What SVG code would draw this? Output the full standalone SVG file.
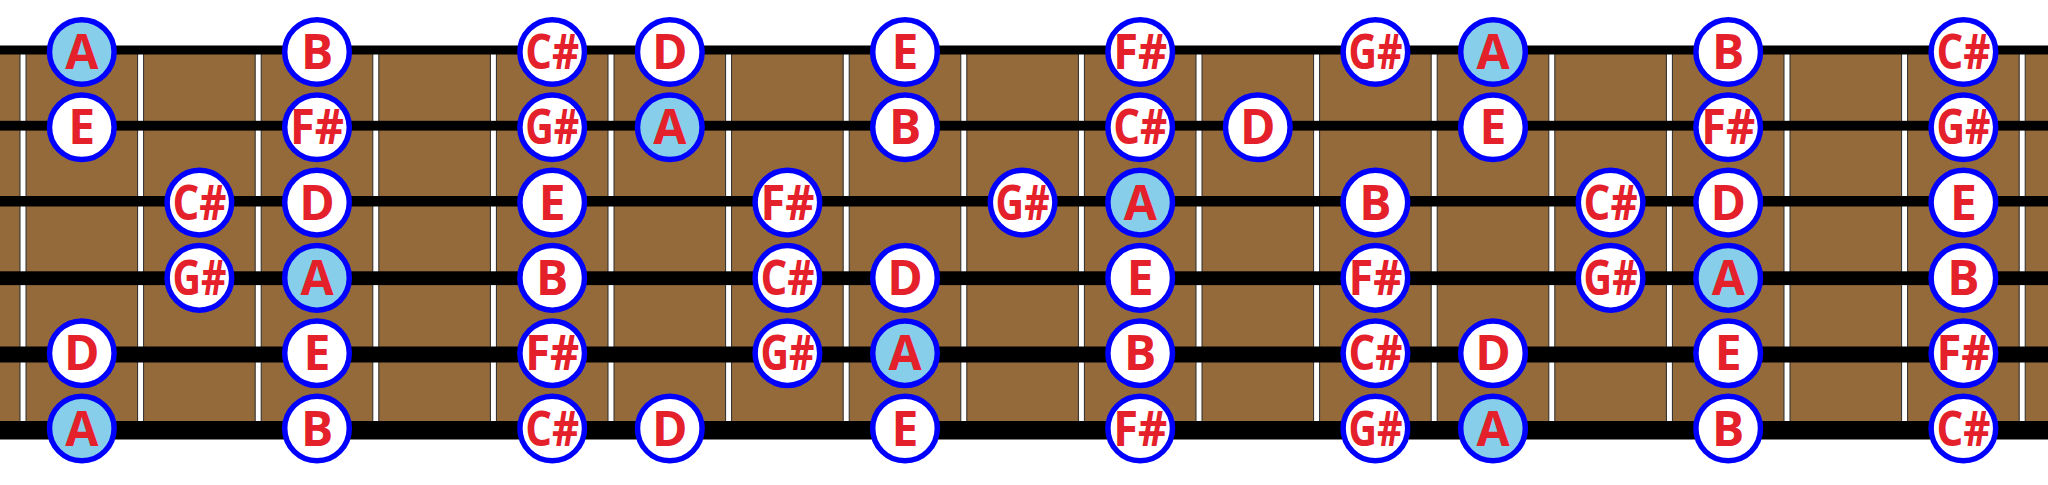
<svg xmlns="http://www.w3.org/2000/svg" width="2048" height="485" viewBox="0 0 2048 485">
<style>
.board{fill:#946A3B}
.fret{fill:#FFFFFF;stroke:#2a2a2a;stroke-width:1}
.str{fill:#000000}
.note circle{fill:#FFFFFF;stroke:#0000FF;stroke-width:5.5}
.note.root circle{fill:#87CEEB}
.note text{font-family:"Open Sans","Noto Sans","DejaVu Sans",sans-serif;font-weight:700;font-size:48px;fill:#E4202A;text-anchor:middle}
</style>
<rect x="0" y="0" width="2048" height="485" fill="#FFFFFF"/>
<g id="fretboard">
<rect class="board" x="0" y="46" width="2048" height="384"/>
<g id="frets">
<rect class="fret" x="20" y="50" width="6" height="376"/>
<rect class="fret" x="137.6" y="50" width="6" height="376"/>
<rect class="fret" x="255.2" y="50" width="6" height="376"/>
<rect class="fret" x="372.8" y="50" width="6" height="376"/>
<rect class="fret" x="490.4" y="50" width="6" height="376"/>
<rect class="fret" x="608" y="50" width="6" height="376"/>
<rect class="fret" x="725.6" y="50" width="6" height="376"/>
<rect class="fret" x="843.2" y="50" width="6" height="376"/>
<rect class="fret" x="960.8" y="50" width="6" height="376"/>
<rect class="fret" x="1078.4" y="50" width="6" height="376"/>
<rect class="fret" x="1196" y="50" width="6" height="376"/>
<rect class="fret" x="1313.6" y="50" width="6" height="376"/>
<rect class="fret" x="1431.2" y="50" width="6" height="376"/>
<rect class="fret" x="1548.8" y="50" width="6" height="376"/>
<rect class="fret" x="1666.4" y="50" width="6" height="376"/>
<rect class="fret" x="1784" y="50" width="6" height="376"/>
<rect class="fret" x="1901.6" y="50" width="6" height="376"/>
<rect class="fret" x="2019.2" y="50" width="6" height="376"/>
</g>
</g>
<g id="strings">
<rect class="str" x="0" y="45.5" width="2048" height="9"/>
<rect class="str" x="0" y="120.8" width="2048" height="9.8"/>
<rect class="str" x="0" y="196" width="2048" height="10.5"/>
<rect class="str" x="0" y="271.3" width="2048" height="13.8"/>
<rect class="str" x="0" y="346.5" width="2048" height="16"/>
<rect class="str" x="0" y="421" width="2048" height="18.5"/>
</g>
<g id="notes">
<!-- row 1 -->
<g id="r1-A-0" class="note root"><circle cx="81.8" cy="52" r="32.3"/><text x="81.8" y="69">A</text></g>
<g id="r1-B-2" class="note"><circle cx="317" cy="52" r="32.3"/><text x="317" y="69">B</text></g>
<g id="r1-Cs-4" class="note"><circle cx="552.2" cy="52" r="32.3"/><text x="552.2" y="69" textLength="54" lengthAdjust="spacingAndGlyphs">C#</text></g>
<g id="r1-D-5" class="note"><circle cx="669.8" cy="52" r="32.3"/><text x="669.8" y="69">D</text></g>
<g id="r1-E-7" class="note"><circle cx="905" cy="52" r="32.3"/><text x="905" y="69">E</text></g>
<g id="r1-Fs-9" class="note"><circle cx="1140.2" cy="52" r="32.3"/><text x="1140.2" y="69" textLength="54" lengthAdjust="spacingAndGlyphs">F#</text></g>
<g id="r1-Gs-11" class="note"><circle cx="1375.4" cy="52" r="32.3"/><text x="1375.4" y="69" textLength="54" lengthAdjust="spacingAndGlyphs">G#</text></g>
<g id="r1-A-12" class="note root"><circle cx="1493" cy="52" r="32.3"/><text x="1493" y="69">A</text></g>
<g id="r1-B-14" class="note"><circle cx="1728.2" cy="52" r="32.3"/><text x="1728.2" y="69">B</text></g>
<g id="r1-Cs-16" class="note"><circle cx="1963.4" cy="52" r="32.3"/><text x="1963.4" y="69" textLength="54" lengthAdjust="spacingAndGlyphs">C#</text></g>
<!-- row 2 -->
<g id="r2-E-0" class="note"><circle cx="81.8" cy="127.3" r="32.3"/><text x="81.8" y="144.3">E</text></g>
<g id="r2-Fs-2" class="note"><circle cx="317" cy="127.3" r="32.3"/><text x="317" y="144.3" textLength="54" lengthAdjust="spacingAndGlyphs">F#</text></g>
<g id="r2-Gs-4" class="note"><circle cx="552.2" cy="127.3" r="32.3"/><text x="552.2" y="144.3" textLength="54" lengthAdjust="spacingAndGlyphs">G#</text></g>
<g id="r2-A-5" class="note root"><circle cx="669.8" cy="127.3" r="32.3"/><text x="669.8" y="144.3">A</text></g>
<g id="r2-B-7" class="note"><circle cx="905" cy="127.3" r="32.3"/><text x="905" y="144.3">B</text></g>
<g id="r2-Cs-9" class="note"><circle cx="1140.2" cy="127.3" r="32.3"/><text x="1140.2" y="144.3" textLength="54" lengthAdjust="spacingAndGlyphs">C#</text></g>
<g id="r2-D-10" class="note"><circle cx="1257.8" cy="127.3" r="32.3"/><text x="1257.8" y="144.3">D</text></g>
<g id="r2-E-12" class="note"><circle cx="1493" cy="127.3" r="32.3"/><text x="1493" y="144.3">E</text></g>
<g id="r2-Fs-14" class="note"><circle cx="1728.2" cy="127.3" r="32.3"/><text x="1728.2" y="144.3" textLength="54" lengthAdjust="spacingAndGlyphs">F#</text></g>
<g id="r2-Gs-16" class="note"><circle cx="1963.4" cy="127.3" r="32.3"/><text x="1963.4" y="144.3" textLength="54" lengthAdjust="spacingAndGlyphs">G#</text></g>
<!-- row 3 -->
<g id="r3-Cs-1" class="note"><circle cx="199.4" cy="202.6" r="32.3"/><text x="199.4" y="219.6" textLength="54" lengthAdjust="spacingAndGlyphs">C#</text></g>
<g id="r3-D-2" class="note"><circle cx="317" cy="202.6" r="32.3"/><text x="317" y="219.6">D</text></g>
<g id="r3-E-4" class="note"><circle cx="552.2" cy="202.6" r="32.3"/><text x="552.2" y="219.6">E</text></g>
<g id="r3-Fs-6" class="note"><circle cx="787.4" cy="202.6" r="32.3"/><text x="787.4" y="219.6" textLength="54" lengthAdjust="spacingAndGlyphs">F#</text></g>
<g id="r3-Gs-8" class="note"><circle cx="1022.6" cy="202.6" r="32.3"/><text x="1022.6" y="219.6" textLength="54" lengthAdjust="spacingAndGlyphs">G#</text></g>
<g id="r3-A-9" class="note root"><circle cx="1140.2" cy="202.6" r="32.3"/><text x="1140.2" y="219.6">A</text></g>
<g id="r3-B-11" class="note"><circle cx="1375.4" cy="202.6" r="32.3"/><text x="1375.4" y="219.6">B</text></g>
<g id="r3-Cs-13" class="note"><circle cx="1610.6" cy="202.6" r="32.3"/><text x="1610.6" y="219.6" textLength="54" lengthAdjust="spacingAndGlyphs">C#</text></g>
<g id="r3-D-14" class="note"><circle cx="1728.2" cy="202.6" r="32.3"/><text x="1728.2" y="219.6">D</text></g>
<g id="r3-E-16" class="note"><circle cx="1963.4" cy="202.6" r="32.3"/><text x="1963.4" y="219.6">E</text></g>
<!-- row 4 -->
<g id="r4-Gs-1" class="note"><circle cx="199.4" cy="277.9" r="32.3"/><text x="199.4" y="294.9" textLength="54" lengthAdjust="spacingAndGlyphs">G#</text></g>
<g id="r4-A-2" class="note root"><circle cx="317" cy="277.9" r="32.3"/><text x="317" y="294.9">A</text></g>
<g id="r4-B-4" class="note"><circle cx="552.2" cy="277.9" r="32.3"/><text x="552.2" y="294.9">B</text></g>
<g id="r4-Cs-6" class="note"><circle cx="787.4" cy="277.9" r="32.3"/><text x="787.4" y="294.9" textLength="54" lengthAdjust="spacingAndGlyphs">C#</text></g>
<g id="r4-D-7" class="note"><circle cx="905" cy="277.9" r="32.3"/><text x="905" y="294.9">D</text></g>
<g id="r4-E-9" class="note"><circle cx="1140.2" cy="277.9" r="32.3"/><text x="1140.2" y="294.9">E</text></g>
<g id="r4-Fs-11" class="note"><circle cx="1375.4" cy="277.9" r="32.3"/><text x="1375.4" y="294.9" textLength="54" lengthAdjust="spacingAndGlyphs">F#</text></g>
<g id="r4-Gs-13" class="note"><circle cx="1610.6" cy="277.9" r="32.3"/><text x="1610.6" y="294.9" textLength="54" lengthAdjust="spacingAndGlyphs">G#</text></g>
<g id="r4-A-14" class="note root"><circle cx="1728.2" cy="277.9" r="32.3"/><text x="1728.2" y="294.9">A</text></g>
<g id="r4-B-16" class="note"><circle cx="1963.4" cy="277.9" r="32.3"/><text x="1963.4" y="294.9">B</text></g>
<!-- row 5 -->
<g id="r5-D-0" class="note"><circle cx="81.8" cy="353.2" r="32.3"/><text x="81.8" y="370.2">D</text></g>
<g id="r5-E-2" class="note"><circle cx="317" cy="353.2" r="32.3"/><text x="317" y="370.2">E</text></g>
<g id="r5-Fs-4" class="note"><circle cx="552.2" cy="353.2" r="32.3"/><text x="552.2" y="370.2" textLength="54" lengthAdjust="spacingAndGlyphs">F#</text></g>
<g id="r5-Gs-6" class="note"><circle cx="787.4" cy="353.2" r="32.3"/><text x="787.4" y="370.2" textLength="54" lengthAdjust="spacingAndGlyphs">G#</text></g>
<g id="r5-A-7" class="note root"><circle cx="905" cy="353.2" r="32.3"/><text x="905" y="370.2">A</text></g>
<g id="r5-B-9" class="note"><circle cx="1140.2" cy="353.2" r="32.3"/><text x="1140.2" y="370.2">B</text></g>
<g id="r5-Cs-11" class="note"><circle cx="1375.4" cy="353.2" r="32.3"/><text x="1375.4" y="370.2" textLength="54" lengthAdjust="spacingAndGlyphs">C#</text></g>
<g id="r5-D-12" class="note"><circle cx="1493" cy="353.2" r="32.3"/><text x="1493" y="370.2">D</text></g>
<g id="r5-E-14" class="note"><circle cx="1728.2" cy="353.2" r="32.3"/><text x="1728.2" y="370.2">E</text></g>
<g id="r5-Fs-16" class="note"><circle cx="1963.4" cy="353.2" r="32.3"/><text x="1963.4" y="370.2" textLength="54" lengthAdjust="spacingAndGlyphs">F#</text></g>
<!-- row 6 -->
<g id="r6-A-0" class="note root"><circle cx="81.8" cy="428.5" r="32.3"/><text x="81.8" y="445.5">A</text></g>
<g id="r6-B-2" class="note"><circle cx="317" cy="428.5" r="32.3"/><text x="317" y="445.5">B</text></g>
<g id="r6-Cs-4" class="note"><circle cx="552.2" cy="428.5" r="32.3"/><text x="552.2" y="445.5" textLength="54" lengthAdjust="spacingAndGlyphs">C#</text></g>
<g id="r6-D-5" class="note"><circle cx="669.8" cy="428.5" r="32.3"/><text x="669.8" y="445.5">D</text></g>
<g id="r6-E-7" class="note"><circle cx="905" cy="428.5" r="32.3"/><text x="905" y="445.5">E</text></g>
<g id="r6-Fs-9" class="note"><circle cx="1140.2" cy="428.5" r="32.3"/><text x="1140.2" y="445.5" textLength="54" lengthAdjust="spacingAndGlyphs">F#</text></g>
<g id="r6-Gs-11" class="note"><circle cx="1375.4" cy="428.5" r="32.3"/><text x="1375.4" y="445.5" textLength="54" lengthAdjust="spacingAndGlyphs">G#</text></g>
<g id="r6-A-12" class="note root"><circle cx="1493" cy="428.5" r="32.3"/><text x="1493" y="445.5">A</text></g>
<g id="r6-B-14" class="note"><circle cx="1728.2" cy="428.5" r="32.3"/><text x="1728.2" y="445.5">B</text></g>
<g id="r6-Cs-16" class="note"><circle cx="1963.4" cy="428.5" r="32.3"/><text x="1963.4" y="445.5" textLength="54" lengthAdjust="spacingAndGlyphs">C#</text></g>
</g>
</svg>
